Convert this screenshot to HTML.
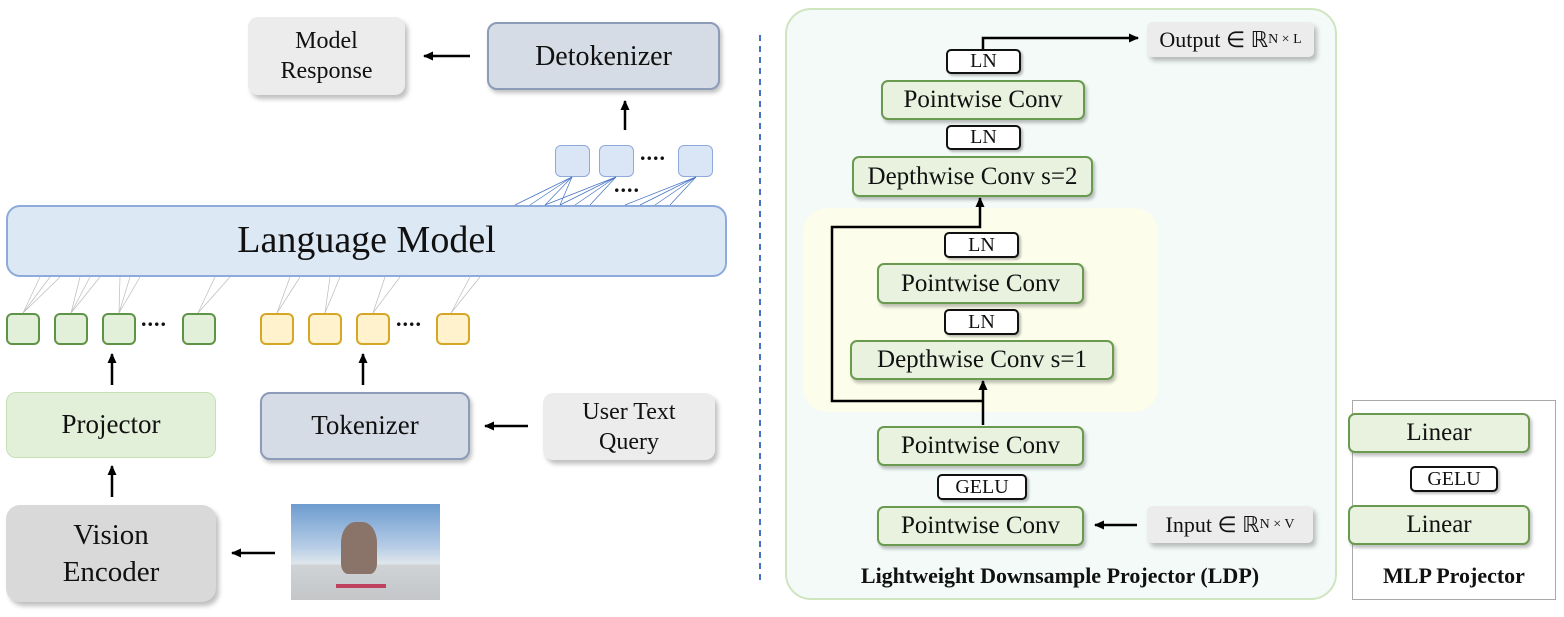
<!DOCTYPE html>
<html><head><meta charset="utf-8"><style>
body{margin:0;width:1564px;height:617px;background:#fff;position:relative;overflow:hidden;font-family:"Liberation Serif",serif;color:#111}
.b{position:absolute;box-sizing:border-box;display:flex;align-items:center;justify-content:center;text-align:center;border-radius:10px;line-height:1.25;white-space:nowrap}
.g{background:#e8f2df;border:2px solid #6a9a4f;border-radius:7px;font-size:25px;box-shadow:2px 3px 3px rgba(0,0,0,.25)}
.w{background:#fff;border:2px solid #111;border-radius:5px;font-size:20px;box-shadow:2px 2px 2px rgba(0,0,0,.25)}
.gr{background:#ececec;box-shadow:3px 4px 5px rgba(0,0,0,.25);font-size:25px}
.tg{position:absolute;width:34px;height:32px;box-sizing:border-box;border-radius:6px;background:#e2efd9;border:2px solid #5f9447}
.ty{position:absolute;width:34px;height:32px;box-sizing:border-box;border-radius:6px;background:#fff2cc;border:2px solid #d6a724}
.tb{position:absolute;width:35px;height:32px;box-sizing:border-box;border-radius:6px;background:#dae6f6;border:1.5px solid #8eaadb}
.dots{position:absolute;font-size:22px;font-weight:bold;letter-spacing:1px}
</style></head><body>
<div class="b gr" style="left:248px;top:17px;width:157px;height:78px;font-size:24px">Model<br>Response</div>
<div class="b" style="left:487px;top:22px;width:233px;height:68px;background:#d6dce6;border:2px solid #8b9bb8;font-size:28px;box-shadow:2px 3px 4px rgba(0,0,0,.25)">Detokenizer</div>
<div class="tb" style="left:555px;top:145px"></div><div class="tb" style="left:599px;top:145px"></div><div class="tb" style="left:678px;top:145px"></div>
<div class="dots" style="left:640px;top:140px">....</div><div class="dots" style="left:614px;top:172px">....</div>
<div class="b" style="left:6px;top:205px;width:721px;height:72px;background:#dde8f5;border:2px solid #8eaadb;border-radius:14px;font-size:38px">Language Model</div>
<div class="tg" style="left:6px;top:313px"></div><div class="tg" style="left:54px;top:313px"></div><div class="tg" style="left:102px;top:313px"></div><div class="tg" style="left:182px;top:313px"></div>
<div class="dots" style="left:141px;top:306px">....</div>
<div class="ty" style="left:260px;top:313px"></div><div class="ty" style="left:308px;top:313px"></div><div class="ty" style="left:356px;top:313px"></div><div class="ty" style="left:436px;top:313px"></div>
<div class="dots" style="left:396px;top:306px">....</div>
<div class="b" style="left:6px;top:392px;width:210px;height:66px;background:#e2f0d9;border:1.5px solid #c5e0b4;font-size:27px">Projector</div>
<div class="b" style="left:260px;top:392px;width:210px;height:68px;background:#d6dce6;border:2px solid #8b9bb8;font-size:27px;box-shadow:2px 3px 4px rgba(0,0,0,.25)">Tokenizer</div>
<div class="b gr" style="left:543px;top:393px;width:172px;height:67px;font-size:24px">User Text<br>Query</div>
<div class="b" style="left:6px;top:505px;width:210px;height:97px;background:#d9d9d9;font-size:29px;border-radius:14px;box-shadow:3px 4px 5px rgba(0,0,0,.25)">Vision<br>Encoder</div>
<div style="position:absolute;left:291px;top:504px;width:149px;height:96px;background:linear-gradient(#6d9ccf 0%,#b7cde6 45%,#dfe6ec 62%,#cfd3d6 64%,#c4c6c8 100%)">
<div style="position:absolute;left:50px;top:18px;width:36px;height:52px;background:#8a7469;border-radius:40% 40% 20% 20%"></div>
<div style="position:absolute;left:45px;top:80px;width:50px;height:4px;background:#c04060"></div></div>
<div class="b" style="left:785px;top:8px;width:552px;height:592px;background:#f3faf8;border:2px solid #cfe5c0;border-radius:26px"></div>
<div class="b" style="left:803px;top:208px;width:355px;height:204px;background:#fcfdeb;border-radius:24px"></div>
<div class="b gr" style="left:1147px;top:22px;width:167px;height:35px;border-radius:5px;font-size:22px">Output ∈ ℝ<sup style="font-size:14px">N × L</sup></div>
<div class="b w" style="left:946px;top:49px;width:75px;height:25px">LN</div>
<div class="b g" style="left:881px;top:80px;width:204px;height:40px">Pointwise Conv</div>
<div class="b w" style="left:946px;top:125px;width:75px;height:25px">LN</div>
<div class="b g" style="left:852px;top:156px;width:241px;height:41px">Depthwise Conv s=2</div>
<div class="b w" style="left:944px;top:232px;width:75px;height:26px">LN</div>
<div class="b g" style="left:877px;top:263px;width:207px;height:41px">Pointwise Conv</div>
<div class="b w" style="left:944px;top:309px;width:75px;height:26px">LN</div>
<div class="b g" style="left:850px;top:340px;width:264px;height:40px">Depthwise Conv s=1</div>
<div class="b g" style="left:877px;top:426px;width:207px;height:40px">Pointwise Conv</div>
<div class="b w" style="left:937px;top:474px;width:90px;height:26px">GELU</div>
<div class="b g" style="left:877px;top:506px;width:207px;height:40px">Pointwise Conv</div>
<div class="b gr" style="left:1147px;top:506px;width:166px;height:37px;border-radius:5px;font-size:22px">Input ∈ ℝ<sup style="font-size:14px">N × V</sup></div>
<div style="position:absolute;left:790px;top:563px;width:540px;text-align:center;font-weight:bold;font-size:22px">Lightweight Downsample Projector (LDP)</div>
<div style="position:absolute;left:1352px;top:400px;width:204px;height:200px;box-sizing:border-box;border:1.5px solid #aaa"></div>
<div class="b g" style="left:1348px;top:413px;width:182px;height:40px">Linear</div>
<div class="b w" style="left:1410px;top:466px;width:88px;height:26px">GELU</div>
<div class="b g" style="left:1348px;top:505px;width:182px;height:40px">Linear</div>
<div style="position:absolute;left:1352px;top:563px;width:204px;text-align:center;font-weight:bold;font-size:22px">MLP Projector</div>
<svg width="1564" height="617" style="position:absolute;left:0;top:0">
<defs><marker id="a" markerUnits="userSpaceOnUse" markerWidth="10" markerHeight="10" refX="9" refY="5" orient="auto"><path d="M0,0.5 L10,5 L0,9.5z" fill="#000"/></marker></defs>
<g stroke="#000" stroke-width="2.5" fill="none" marker-end="url(#a)">
<line x1="470" y1="56" x2="424" y2="56"/>
<line x1="625" y1="130" x2="625" y2="101"/>
<line x1="112" y1="385" x2="112" y2="354"/>
<line x1="363" y1="385" x2="363" y2="354"/>
<line x1="528" y1="426" x2="485" y2="426"/>
<line x1="112" y1="497" x2="112" y2="466"/>
<line x1="275" y1="553" x2="232" y2="553"/>
<line x1="1137" y1="525" x2="1095" y2="525"/>
<polyline points="983,49 983,38 1138,38"/>
<line x1="983" y1="425" x2="983" y2="381"/>
<polyline points="983,401 832,401 832,227 980,227 980,198"/>
</g>
<line x1="760" y1="35" x2="760" y2="585" stroke="#4472c4" stroke-width="2" stroke-dasharray="6,5"/>
<g stroke="#bbb" stroke-width="0.7">
<line x1="23" y1="313" x2="60" y2="277"/><line x1="23" y1="313" x2="50" y2="277"/><line x1="23" y1="313" x2="40" y2="277"/>
<line x1="71" y1="313" x2="100" y2="277"/><line x1="71" y1="313" x2="90" y2="277"/><line x1="71" y1="313" x2="80" y2="277"/>
<line x1="119" y1="313" x2="140" y2="277"/><line x1="119" y1="313" x2="130" y2="277"/><line x1="119" y1="313" x2="120" y2="277"/>
<line x1="198" y1="313" x2="230" y2="277"/><line x1="198" y1="313" x2="215" y2="277"/>
<line x1="277" y1="313" x2="300" y2="277"/><line x1="277" y1="313" x2="290" y2="277"/>
<line x1="325" y1="313" x2="340" y2="277"/><line x1="325" y1="313" x2="330" y2="277"/>
<line x1="373" y1="313" x2="400" y2="277"/><line x1="373" y1="313" x2="385" y2="277"/>
<line x1="451" y1="313" x2="480" y2="277"/><line x1="451" y1="313" x2="470" y2="277"/>
</g>
<g stroke="#4472c4" stroke-width="0.7">
<line x1="572" y1="177" x2="515" y2="205"/><line x1="572" y1="177" x2="530" y2="205"/><line x1="572" y1="177" x2="545" y2="205"/><line x1="572" y1="177" x2="560" y2="205"/>
<line x1="616" y1="177" x2="545" y2="205"/><line x1="616" y1="177" x2="560" y2="205"/><line x1="616" y1="177" x2="575" y2="205"/><line x1="616" y1="177" x2="590" y2="205"/>
<line x1="696" y1="177" x2="625" y2="205"/><line x1="696" y1="177" x2="640" y2="205"/><line x1="696" y1="177" x2="655" y2="205"/><line x1="696" y1="177" x2="670" y2="205"/>
</g>
</svg>
</body></html>
